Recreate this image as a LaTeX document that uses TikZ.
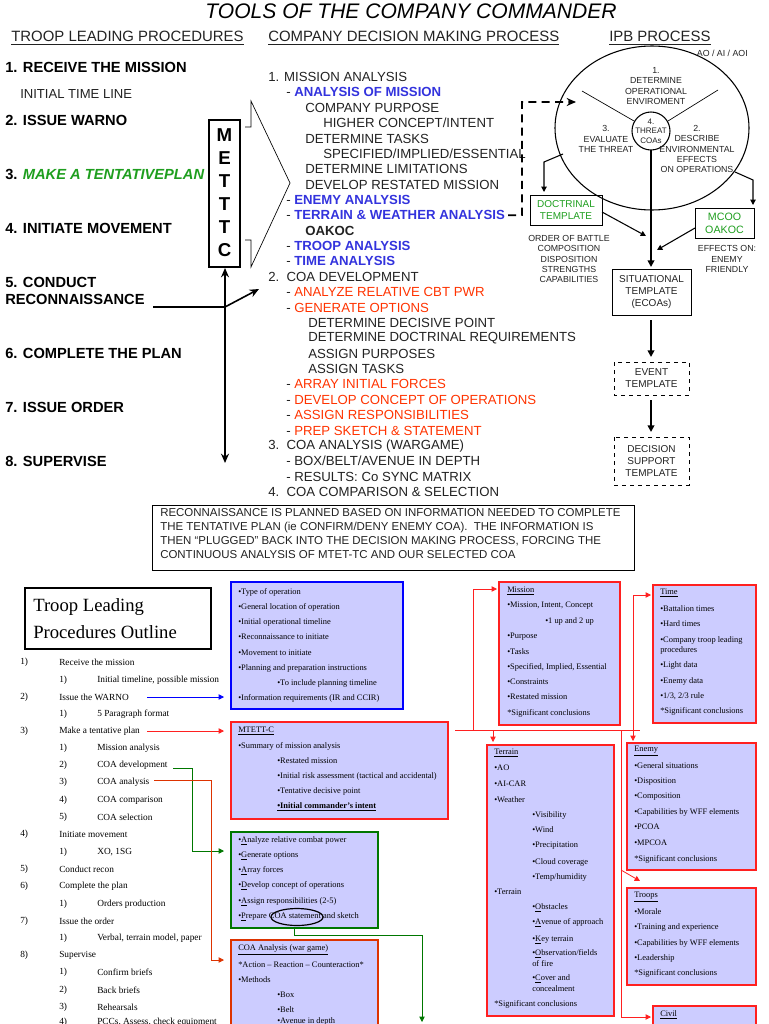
\documentclass[tikz,border=0pt]{standalone}
\usepackage{fontspec}
\setmainfont{Liberation Serif}
\newfontfamily\hv{Liberation Sans}
\usetikzlibrary{arrows.meta}
\definecolor{bx}{HTML}{CCCCFF}
\definecolor{rd}{HTML}{FF2020}
\definecolor{gr}{HTML}{007700}
\definecolor{og}{HTML}{DD3300}
\definecolor{bl}{HTML}{3333DD}
\definecolor{orr}{HTML}{FF3300}
\definecolor{tg}{HTML}{1E9E1E}
\definecolor{dk}{HTML}{222222}
\newcommand{\ux}[1]{\underline{#1}}
\begin{document}
\begin{tikzpicture}[x=0.75pt,y=-0.75pt,
  hd/.style={anchor=west,inner sep=0,font=\hv\fontsize{11.2}{13}\selectfont,text=dk},
  big/.style={anchor=west,inner sep=0,font=\hv\bfseries\fontsize{11}{13}\selectfont},
  mid/.style={anchor=west,inner sep=0,font=\hv\fontsize{9.9}{12}\selectfont,text=dk},
  sm/.style={align=center,inner sep=0,font=\hv\fontsize{6.6}{7.6}\selectfont,text=dk},
  tb/.style={align=center,inner sep=0,font=\hv\fontsize{7.5}{9}\selectfont,text=dk},
  bt/.style={anchor=west,inner sep=0,font=\fontsize{6.3}{7}\selectfont},
  lt/.style={anchor=west,inner sep=0,font=\fontsize{7}{8}\selectfont},
  box/.style={fill=bx,line width=1.3pt},
  sarr/.style={-{Triangle[length=4pt,width=4pt]},line width=0.8pt}]
\useasboundingbox (0,0) rectangle (768,1024);
\clip (0,0) rectangle (768,1024);
% title and headers
\node[inner sep=0,font=\hv\itshape\fontsize{15.8}{18}\selectfont] (title) at (411,11) {TOOLS OF THE COMPANY COMMANDER};
\node[hd] (h1) at (11,38) {\ux{TROOP LEADING PROCEDURES}};
\node[hd] (h2) at (268,38) {\ux{COMPANY DECISION MAKING PROCESS}};
\node[hd] (h3) at (609,38) {\ux{IPB PROCESS}};
% left list
\node[big] (l1) at (5,67) {1. RECEIVE THE MISSION};
\node[hd,font=\hv\fontsize{9.8}{11}\selectfont] (l1a) at (20,94) {INITIAL TIME LINE};
\node[big] (l2) at (5,120) {2. ISSUE WARNO};
\node[big] (l3) at (5,174) {3. \textcolor{tg}{\itshape MAKE A TENTATIVEPLAN}};
\node[big] (l4) at (5,228) {4. INITIATE MOVEMENT};
\node[big] (l5) at (5,282) {5. CONDUCT};
\node[big] (l5b) at (5,299) {RECONNAISSANCE};
\node[big] (l6) at (5,353) {6. COMPLETE THE PLAN};
\node[big] (l7) at (5,407) {7. ISSUE ORDER};
\node[big] (l8) at (5,461) {8. SUPERVISE};
% METTTC
\draw[line width=0.8pt] (209,120) rectangle (240,267);
\node[font=\hv\bfseries\fontsize{14}{17.2}\selectfont,align=center,inner sep=0] (mettc) at (224.5,193) {M\\E\\T\\T\\T\\C};
\draw[line width=0.5pt] (245,127)--(251,127)--(251,101)--(290,183)--(251,267)--(251,240)--(245,240);
\coordinate (vt) at (225,268); \coordinate (vb) at (225,463);
\draw[{Stealth[length=7pt,width=6pt]}-{Stealth[length=7pt,width=6pt]},line width=1.2pt] (vt)--(vb);
\coordinate (rl) at (153,307); \coordinate (rm) at (225,307); \coordinate (ra) at (259,289);
\draw[line width=1.2pt] (rl)--(rm);
\draw[-{Stealth[length=7pt,width=6pt]},line width=1.2pt] (rm)--(ra);
% middle column
\foreach \i/\x/\t in {
 1/268/{1. MISSION ANALYSIS},
 2/286/{- \textcolor{bl}{\bfseries ANALYSIS OF MISSION}},
 3/305/{COMPANY PURPOSE},
 4/323/{HIGHER CONCEPT/INTENT},
 5/305/{DETERMINE TASKS},
 6/323/{SPECIFIED/IMPLIED/ESSENTIAL},
 7/305/{DETERMINE LIMITATIONS},
 8/305/{DEVELOP RESTATED MISSION},
 9/286/{- \textcolor{bl}{\bfseries ENEMY ANALYSIS}},
 10/286/{- \textcolor{bl}{\bfseries TERRAIN \& WEATHER ANALYSIS}},
 11/305/{\bfseries OAKOC},
 12/286/{- \textcolor{bl}{\bfseries TROOP ANALYSIS}},
 13/286/{- \textcolor{bl}{\bfseries TIME ANALYSIS}},
 14/268/{2.\ \ COA DEVELOPMENT},
 15/286/{- \textcolor{orr}{ANALYZE RELATIVE CBT PWR}},
 16/286/{- \textcolor{orr}{GENERATE OPTIONS}},
 17/308/{DETERMINE DECISIVE POINT},
 18/308/{DETERMINE DOCTRINAL REQUIREMENTS},
 19/308/{ASSIGN PURPOSES},
 20/308/{ASSIGN TASKS},
 21/286/{- \textcolor{orr}{ARRAY INITIAL FORCES}},
 22/286/{- \textcolor{orr}{DEVELOP CONCEPT OF OPERATIONS}},
 23/286/{- \textcolor{orr}{ASSIGN RESPONSIBILITIES}},
 24/286/{- \textcolor{orr}{PREP SKETCH \& STATEMENT}},
 25/268/{3.\ \ COA ANALYSIS (WARGAME)},
 26/286/{- BOX/BELT/AVENUE IN DEPTH},
 27/286/{- RESULTS: Co SYNC MATRIX},
 28/268/{4.\ \ COA COMPARISON \& SELECTION}}
 {\node[mid] (m\i) at (\x,{77+15.37*(\i-1)}) {\t};}
% dashed arrow
\draw[-{Stealth[length=7pt,width=6pt]},line width=1.3pt,dash pattern=on 6pt off 4pt] (m10.east)++(3,0) -- (522,215) -- (522,102) -- (576,102);
% IPB
\node[sm,anchor=east] (aoi) at (748,53) {AO / AI / AOI};
\draw[line width=0.8pt] (652,128) ellipse [x radius=97,y radius=82];
\draw[line width=0.8pt] (651,131) circle [radius=19];
\coordinate (thrs) at (651,150);
\draw[line width=0.5pt] (582,91)--(634,121) (718,90)--(668,121);
\node[sm] (s1) at (656,86) {1.\\DETERMINE\\OPERATIONAL\\ENVIROMENT};
\node[sm,font=\hv\fontsize{6}{7}\selectfont] (s4) at (651,131) {4.\\THREAT\\COAs};
\node[sm] (s3) at (606,139) {3.\\EVALUATE\\THE THREAT};
\node[sm] (s2) at (697,149) {2.\\DESCRIBE\\ENVIRONMENTAL\\EFFECTS\\ON OPERATIONS};
\draw[line width=0.6pt] (530,195) rectangle (602,225);
\node[tb,text=tg] (doc) at (566,210) {DOCTRINAL\\TEMPLATE};
\draw[line width=0.6pt] (695,208) rectangle (754,238);
\node[tb,text=tg,font=\hv\fontsize{8}{9.5}\selectfont] (mcoo) at (724.5,223) {MCOO\\OAKOC};
\node[sm] (ob) at (569,259) {ORDER OF BATTLE\\COMPOSITION\\DISPOSITION\\STRENGTHS\\CAPABILITIES};
\node[sm] (ef) at (727,259) {EFFECTS ON:\\ENEMY\\FRIENDLY};
\draw[line width=0.6pt] (612,269) rectangle (691,315);
\node[tb] (sit) at (651.5,292) {SITUATIONAL\\TEMPLATE\\(ECOAs)};
\draw[line width=0.6pt,dashed] (614,362) rectangle (689,395);
\node[tb] (evt) at (651.5,378.5) {EVENT\\TEMPLATE};
\draw[line width=0.6pt,dashed] (614,437) rectangle (689,485);
\node[tb] (dst) at (651.5,461) {DECISION\\SUPPORT\\TEMPLATE};
\draw[sarr] (563,154)--(544,162)--(544,192);
\draw[sarr] (735,172)--(753,180)--(753,205);
\draw[sarr] (602,212)--(646,236);
\draw[sarr] (695,228)--(657,250);
\draw[-{Triangle[length=5pt,width=5pt]},line width=1.4pt] (thrs)--(651,267);
\draw[-{Triangle[length=5pt,width=5pt]},line width=1.4pt] (651,320)--(651,357);
\draw[-{Triangle[length=5pt,width=5pt]},line width=1.4pt] (651,400)--(651,432);
% recon box
\draw[line width=0.6pt] (152,505) rectangle (634,570);
\node[anchor=north west,inner sep=0,align=left,font=\hv\fontsize{8.6}{10.6}\selectfont,text=dk] (rect) at (160,508) {RECONNAISSANCE IS PLANNED BASED ON INFORMATION NEEDED TO COMPLETE\\THE TENTATIVE PLAN (ie CONFIRM/DENY ENEMY COA).\ \ THE INFORMATION IS\\THEN “PLUGGED” BACK INTO THE DECISION MAKING PROCESS, FORCING THE\\CONTINUOUS ANALYSIS OF MTET-TC AND OUR SELECTED COA};
% bottom outline
\draw[line width=0.8pt] (25,588) rectangle (211,649);
\node[align=left,font=\fontsize{14}{20}\selectfont,anchor=west,inner sep=0] (tlpt) at (33,618.5) {Troop Leading\\Procedures Outline};
\foreach \y/\n/\t in {662/1)/{Receive the mission},697/2)/{Issue the WARNO},731/3)/{Make a tentative plan},834/4)/{Initiate movement},869/5)/{Conduct recon},886/6)/{Complete the plan},921/7)/{Issue the order},955/8)/{Supervise}}
 {\node[lt] at (20,\y) {\n}; \node[lt] at (59,\y) {\t};}
\foreach \y/\n/\t in {680/1)/{Initial timeline, possible mission},714/1)/{5 Paragraph format},748/1)/{Mission analysis},765/2)/{COA development},782/3)/{COA analysis},800/4)/{COA comparison},817/5)/{COA selection},852/1)/{XO, 1SG},904/1)/{Orders production},938/1)/{Verbal, terrain model, paper},972/1)/{Confirm briefs},990/2)/{Back briefs},1007/3)/{Rehearsals},1022/4)/{PCCs, Assess, check equipment}}
 {\node[lt] at (59,\y) {\n}; \node[lt] at (97,\y) {\t};}
% boxes
\draw[box,draw=blue] (231,582) rectangle (403,709);
\draw[box,draw=rd] (231,722) rectangle (448,819);
\draw[box,draw=gr] (231,832) rectangle (378,928);
\draw[box,draw=og] (231,940) rectangle (378,1030);
\draw[box,draw=rd] (499,582) rectangle (620,725);
\draw[box,draw=rd] (653,585) rectangle (756,723);
\draw[box,draw=rd] (487,745) rectangle (614,1016);
\draw[box,draw=rd] (627,743) rectangle (756,870);
\draw[box,draw=rd] (627,888) rectangle (756,985);
\draw[box,draw=rd] (653,1006) rectangle (756,1030);
\foreach \y/\x/\t in {592/238/{•Type of operation},607/238/{•General location of operation},622/238/{•Initial operational timeline},637/238/{•Reconnaissance to initiate},653/238/{•Movement to initiate},668/238/{•Planning and preparation instructions},683/277/{•To include planning timeline},698/238/{•Information requirements (IR and CCIR)},
 731/238/{\ux{MTETT-C}},746/238/{•Summary of mission analysis},761/277/{•Restated mission},776/277/{•Initial risk assessment (tactical and accidental)},791/277/{•Tentative decisive point},807/277/{\bfseries\ux{•Initial commander's intent}},
 841/238/{•\ux{A}nalyze relative combat power},856/238/{•\ux{G}enerate options},871/238/{•\ux{A}rray forces},886/238/{•\ux{D}evelop concept of operations},902/238/{•\ux{A}ssign responsibilities (2-5)},917/238/{•\ux{P}repare COA statement and sketch},
 950/238/{\ux{COA Analysis (war game)}},965/238/{*Action -- Reaction -- Counteraction*},980/238/{•Methods},995/277/{•Box},1010/277/{•Belt},1021/277/{•Avenue in depth},
 591/507/{\ux{Mission}},606/507/{•Mission, Intent, Concept},621/545/{•1 up and 2 up},637/507/{•Purpose},652/507/{•Tasks},667/507/{•Specified, Implied, Essential},682/507/{•Constraints},697/507/{•Restated mission},713/507/{*Significant conclusions},
 593/660/{\ux{Time}},609/660/{•Battalion times},624/660/{•Hard times},640/660/{•Company troop leading},650/660/{procedures},665/660/{•Light data},681/660/{•Enemy data},696/660/{•1/3, 2/3 rule},711/660/{*Significant conclusions},
 753/494/{\ux{Terrain}},768/494/{•AO},784/494/{•AI-CAR},800/494/{•Weather},815/532/{•Visibility},830/532/{•Wind},846/532/{•Precipitation},862/532/{•Cloud coverage},877/532/{•Temp/humidity},892/494/{•Terrain},908/532/{•\ux{O}bstacles},923/532/{•\ux{A}venue of approach},940/532/{•\ux{K}ey terrain},954/532/{•\ux{O}bservation/fields},964/532/{of fire},979/532/{•\ux{C}over and},989/532/{concealment},1004/494/{*Significant conclusions},
 751/634/{\ux{Enemy}},766/634/{•General situations},782/634/{•Disposition},797/634/{•Composition},812/634/{•Capabilities by WFF elements},827/634/{•PCOA},843/634/{•MPCOA},859/634/{*Significant conclusions},
 897/634/{\ux{Troops}},912/634/{•Morale},927/634/{•Training and experience},943/634/{•Capabilities by WFF elements},958/634/{•Leadership},973/634/{*Significant conclusions},
 1015/660/{\ux{Civil}}}
 {\node[bt] at (\x,\y) {\t};}
\draw[line width=0.9pt] (297,917) ellipse [x radius=26,y radius=8.5];
% bottom connectors
\coordinate (w1) at (147,697); \coordinate (w2) at (224,697);
\draw[blue,sarr,line width=0.6pt] (w1)--(w2);
\coordinate (p1) at (147,731); \coordinate (p2) at (224,731);
\draw[rd,sarr,line width=0.6pt] (p1)--(p2);
\draw[gr,sarr,line width=0.6pt] (173,768)--(192,768)--(192,851)--(224,851);
\draw[og,sarr,line width=0.6pt] (154,780)--(211,780)--(211,960)--(224,960);
\draw[gr,sarr,line width=0.6pt] (294,929)--(294,935)--(422,935)--(422,1022);
\draw[rd,line width=0.6pt] (455,730)--(640,730);
\draw[rd,sarr,line width=0.6pt] (473,730)--(473,589)--(497,589);
\draw[rd,sarr,line width=0.6pt] (633,730)--(633,595)--(651,595);
\draw[rd,sarr,line width=0.6pt] (493,730)--(493,742);
\draw[rd,sarr,line width=0.6pt] (633,730)--(633,741);
\draw[rd,line width=0.6pt] (621,730)--(621,870);
\draw[rd,sarr,line width=0.6pt] (621,870)--(640,881);
\draw[rd,sarr,line width=0.6pt] (621,870)--(621,1017)--(651,1017);
\end{tikzpicture}
\end{document}
